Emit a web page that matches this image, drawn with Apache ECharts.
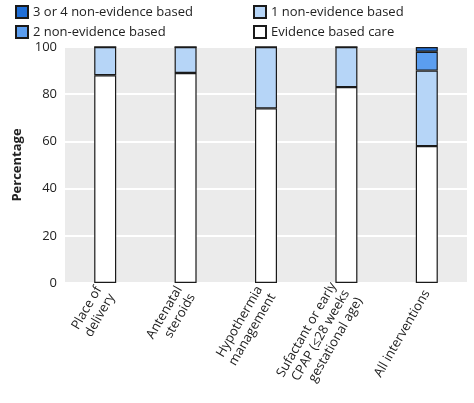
<!DOCTYPE html>
<html><head><meta charset="utf-8">
<script src="https://cdn.jsdelivr.net/npm/echarts@6/dist/echarts.min.js"></script>
<style>html,body{margin:0;background:#fff}#c{width:474px;height:403px}</style>
</head><body><div id="c"></div>
<script>
// 数据
var categories = ['Place of\ndelivery', 'Antenatal\nsteroids', 'Hypothermia\nmanagement', 'Sufactant or early\nCPAP (≤28 weeks\ngestational age)', 'All interventions'];
var evidenceBased = [88, 89, 74, 83, 58];
var oneNonEvidence = [12, 11, 26, 17, 32];
var twoNonEvidence = [0, 0, 0, 0, 8];
var threeFourNonEvidence = [0, 0, 0, 0, 2];
var yTicks = [0, 20, 40, 60, 80, 100];

var myChart = echarts.init(document.getElementById('c'));
function bar(name, data, color) {
    return {
        name: name, type: 'bar', stack: 'a', data: data, barWidth: 22,
        itemStyle: { color: color, borderColor: '#1a1a1a', borderWidth: 1.2 }
    };
}
var option = {
    backgroundColor: '#fff',
    animation: false,
    textStyle: { fontFamily: 'Open Sans' },
    legend: [{
        left: 10, top: 0, orient: 'vertical', itemGap: 6, itemWidth: 12, itemHeight: 12, icon: 'rect',
        textStyle: { fontSize: 13, color: '#222' },
        data: ['3 or 4 non-evidence based', '2 non-evidence based']
    }, {
        left: 248, top: 0, orient: 'vertical', itemGap: 6, itemWidth: 12, itemHeight: 12, icon: 'rect',
        textStyle: { fontSize: 13, color: '#222' },
        data: ['1 non-evidence based', 'Evidence based care']
    }],
    grid: { left: 65, right: 7, top: 47, bottom: 120 },
    xAxis: {
        type: 'category', data: categories,
        axisTick: { show: false }, axisLine: { show: false },
        axisLabel: { rotate: 60, fontSize: 13, color: '#222', interval: 0, margin: 8, lineHeight: 15 }
    },
    yAxis: {
        type: 'value', min: 0, max: 100, interval: 20,
        name: 'Percentage', nameLocation: 'middle', nameGap: 38,
        nameTextStyle: { fontWeight: 'bold', fontSize: 13, color: '#222' },
        axisLabel: { fontSize: 13, color: '#222', formatter: function (v) { return yTicks.indexOf(v) >= 0 ? v : ''; } },
        splitLine: { lineStyle: { color: '#fff', width: 2 } },
        splitArea: { show: true, areaStyle: { color: ['#ebebeb', '#ebebeb'] } }
    },
    series: [
        bar('Evidence based care', evidenceBased, '#ffffff'),
        bar('1 non-evidence based', oneNonEvidence, '#b6d5f7'),
        bar('2 non-evidence based', twoNonEvidence, '#5b9ef0'),
        bar('3 or 4 non-evidence based', threeFourNonEvidence, '#1f6fd8')
    ]
};
myChart.setOption(option);
</script></body></html>
